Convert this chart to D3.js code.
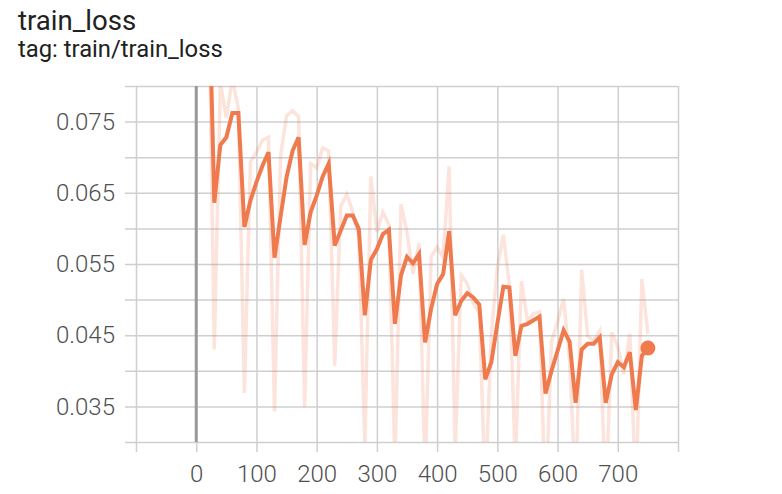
<!DOCTYPE html>
<html>
<head>
<meta charset="utf-8">
<script src="https://cdn.jsdelivr.net/npm/d3@7"></script>
<style>
  html, body { margin: 0; padding: 0; background: #fff; }
  svg { display: block; font-family: Roboto, "Noto Sans", sans-serif; }
</style>
</head>
<body>
<svg id="chart" width="782" height="494"></svg>
<script>
// ---- data ----
const title = "train_loss";
const subtitle = "tag: train/train_loss";

const steps = [20,30,40,50,60,70,80,90,100,110,120,130,140,150,160,170,180,190,200,210,
  220,230,240,250,260,270,280,290,300,310,320,330,340,350,360,370,380,390,400,410,
  420,430,440,450,460,470,480,490,500,510,520,530,540,550,560,570,580,590,600,610,
  620,630,640,650,660,670,680,690,700,710,720,730,740,750];

const rawLoss = [0.0980,0.0430,0.0805,0.0755,0.0810,0.0768,0.0369,0.0694,0.0707,0.0724,
  0.0728,0.0343,0.0702,0.0758,0.0765,0.0757,0.0349,0.0691,0.0685,0.0713,
  0.0709,0.0407,0.0631,0.0648,0.0623,0.0588,0.0295,0.0673,0.0595,0.0623,
  0.0605,0.0267,0.0634,0.0594,0.0536,0.0579,0.0253,0.0560,0.0574,0.0559,
  0.0687,0.0287,0.0534,0.0523,0.0495,0.0481,0.0231,0.0452,0.0545,0.0591,
  0.0520,0.0270,0.0526,0.0470,0.0480,0.0483,0.0206,0.0442,0.0468,0.0501,
  0.0414,0.0228,0.0542,0.0449,0.0442,0.0456,0.0218,0.0454,0.0434,0.0395,
  0.0452,0.0226,0.0529,0.0452];

const smoothedLoss = [0.0980,0.0636,0.0717,0.0728,0.0762,0.0762,0.0602,0.0639,0.0665,0.0688,
  0.0707,0.0559,0.0616,0.0672,0.0709,0.0728,0.0577,0.0623,0.0646,0.0673,
  0.0691,0.0576,0.0597,0.0618,0.0618,0.0599,0.0478,0.0556,0.0571,0.0592,
  0.0598,0.0466,0.0534,0.0560,0.0551,0.0564,0.0440,0.0487,0.0522,0.0536,
  0.0596,0.0478,0.0498,0.0509,0.0503,0.0493,0.0388,0.0412,0.0466,0.0518,
  0.0517,0.0421,0.0463,0.0466,0.0471,0.0476,0.0368,0.0400,0.0428,0.0457,
  0.0441,0.0355,0.0430,0.0438,0.0438,0.0447,0.0355,0.0395,0.0412,0.0405,
  0.0426,0.0345,0.0421,0.0432];

const xDomain = [-100, 800];
const yDomain = [0.03, 0.08];
const xGridTicks = [-100,0,100,200,300,400,500,600,700,800];
const xLabelTicks = [0,100,200,300,400,500,600,700];
const yGridTicks = [0.03,0.035,0.04,0.045,0.05,0.055,0.06,0.065,0.07,0.075,0.08];
const yLabelTicks = [0.035,0.045,0.055,0.065,0.075];

// ---- layout ----
const svg = d3.select("#chart");
const ml = 136, mt = 86, pw = 542, ph = 356;
const lineColor = "#ef7a4e";
const gridColor = "#cfcfcf";

const x = d3.scaleLinear().domain(xDomain).range([0, pw]);
const y = d3.scaleLinear().domain(yDomain).range([ph, 0]);

svg.append("text").attr("x", 18).attr("y", 30)
  .attr("font-size", 27.6).attr("fill", "#212121").text(title);
svg.append("text").attr("x", 18).attr("y", 57)
  .attr("font-size", 23.8).attr("fill", "#212121").text(subtitle);

const g = svg.append("g").attr("transform", `translate(${ml},${mt})`);

// y grid + labels
const yAxis = d3.axisLeft(y).tickValues(yGridTicks).tickSize(-pw).tickPadding(21)
  .tickFormat(d => yLabelTicks.some(v => Math.abs(v - d) < 1e-9) ? d3.format(".3f")(d) : "");
const yg = g.append("g").call(yAxis);
yg.select(".domain").remove();
yg.selectAll(".tick line").attr("x1", -11).attr("stroke", gridColor).attr("stroke-width", 1.5);
yg.selectAll(".tick text").attr("font-size", 24).attr("font-weight", 300)
  .attr("fill", "#505050").attr("font-family", "Roboto, sans-serif");

// x grid + labels
const xAxis = d3.axisBottom(x).tickValues(xGridTicks).tickSize(-ph).tickPadding(23)
  .tickFormat(d => xLabelTicks.includes(d) ? String(d) : "");
const xg = g.append("g").attr("transform", `translate(0,${ph})`).call(xAxis);
xg.select(".domain").remove();
xg.selectAll(".tick line").attr("y1", 10).attr("stroke", gridColor).attr("stroke-width", 1.5);
xg.selectAll(".tick text").attr("font-size", 24).attr("font-weight", 300)
  .attr("fill", "#505050").attr("font-family", "Roboto, sans-serif");

// zero line
g.append("line").attr("x1", x(0)).attr("x2", x(0)).attr("y1", 0).attr("y2", ph)
  .attr("stroke", "#9a9a9a").attr("stroke-width", 3);

// clip
svg.append("defs").append("clipPath").attr("id", "plotclip")
  .append("rect").attr("x", 0).attr("y", 0).attr("width", pw).attr("height", ph);

const data = steps.map((s, i) => ({ step: s, raw: rawLoss[i], sm: smoothedLoss[i] }));
const plot = g.append("g").attr("clip-path", "url(#plotclip)");

plot.append("path").datum(data)
  .attr("fill", "none").attr("stroke", lineColor).attr("stroke-opacity", 0.2)
  .attr("stroke-width", 3.5).attr("stroke-linejoin", "miter")
  .attr("d", d3.line().x(d => x(d.step)).y(d => y(d.raw)));

plot.append("path").datum(data)
  .attr("fill", "none").attr("stroke", lineColor)
  .attr("stroke-width", 4).attr("stroke-linejoin", "miter")
  .attr("d", d3.line().x(d => x(d.step)).y(d => y(d.sm)));

const last = data[data.length - 1];
g.append("circle").attr("cx", x(last.step)).attr("cy", y(last.sm)).attr("r", 7.5)
  .attr("fill", lineColor);
</script>
</body>
</html>
